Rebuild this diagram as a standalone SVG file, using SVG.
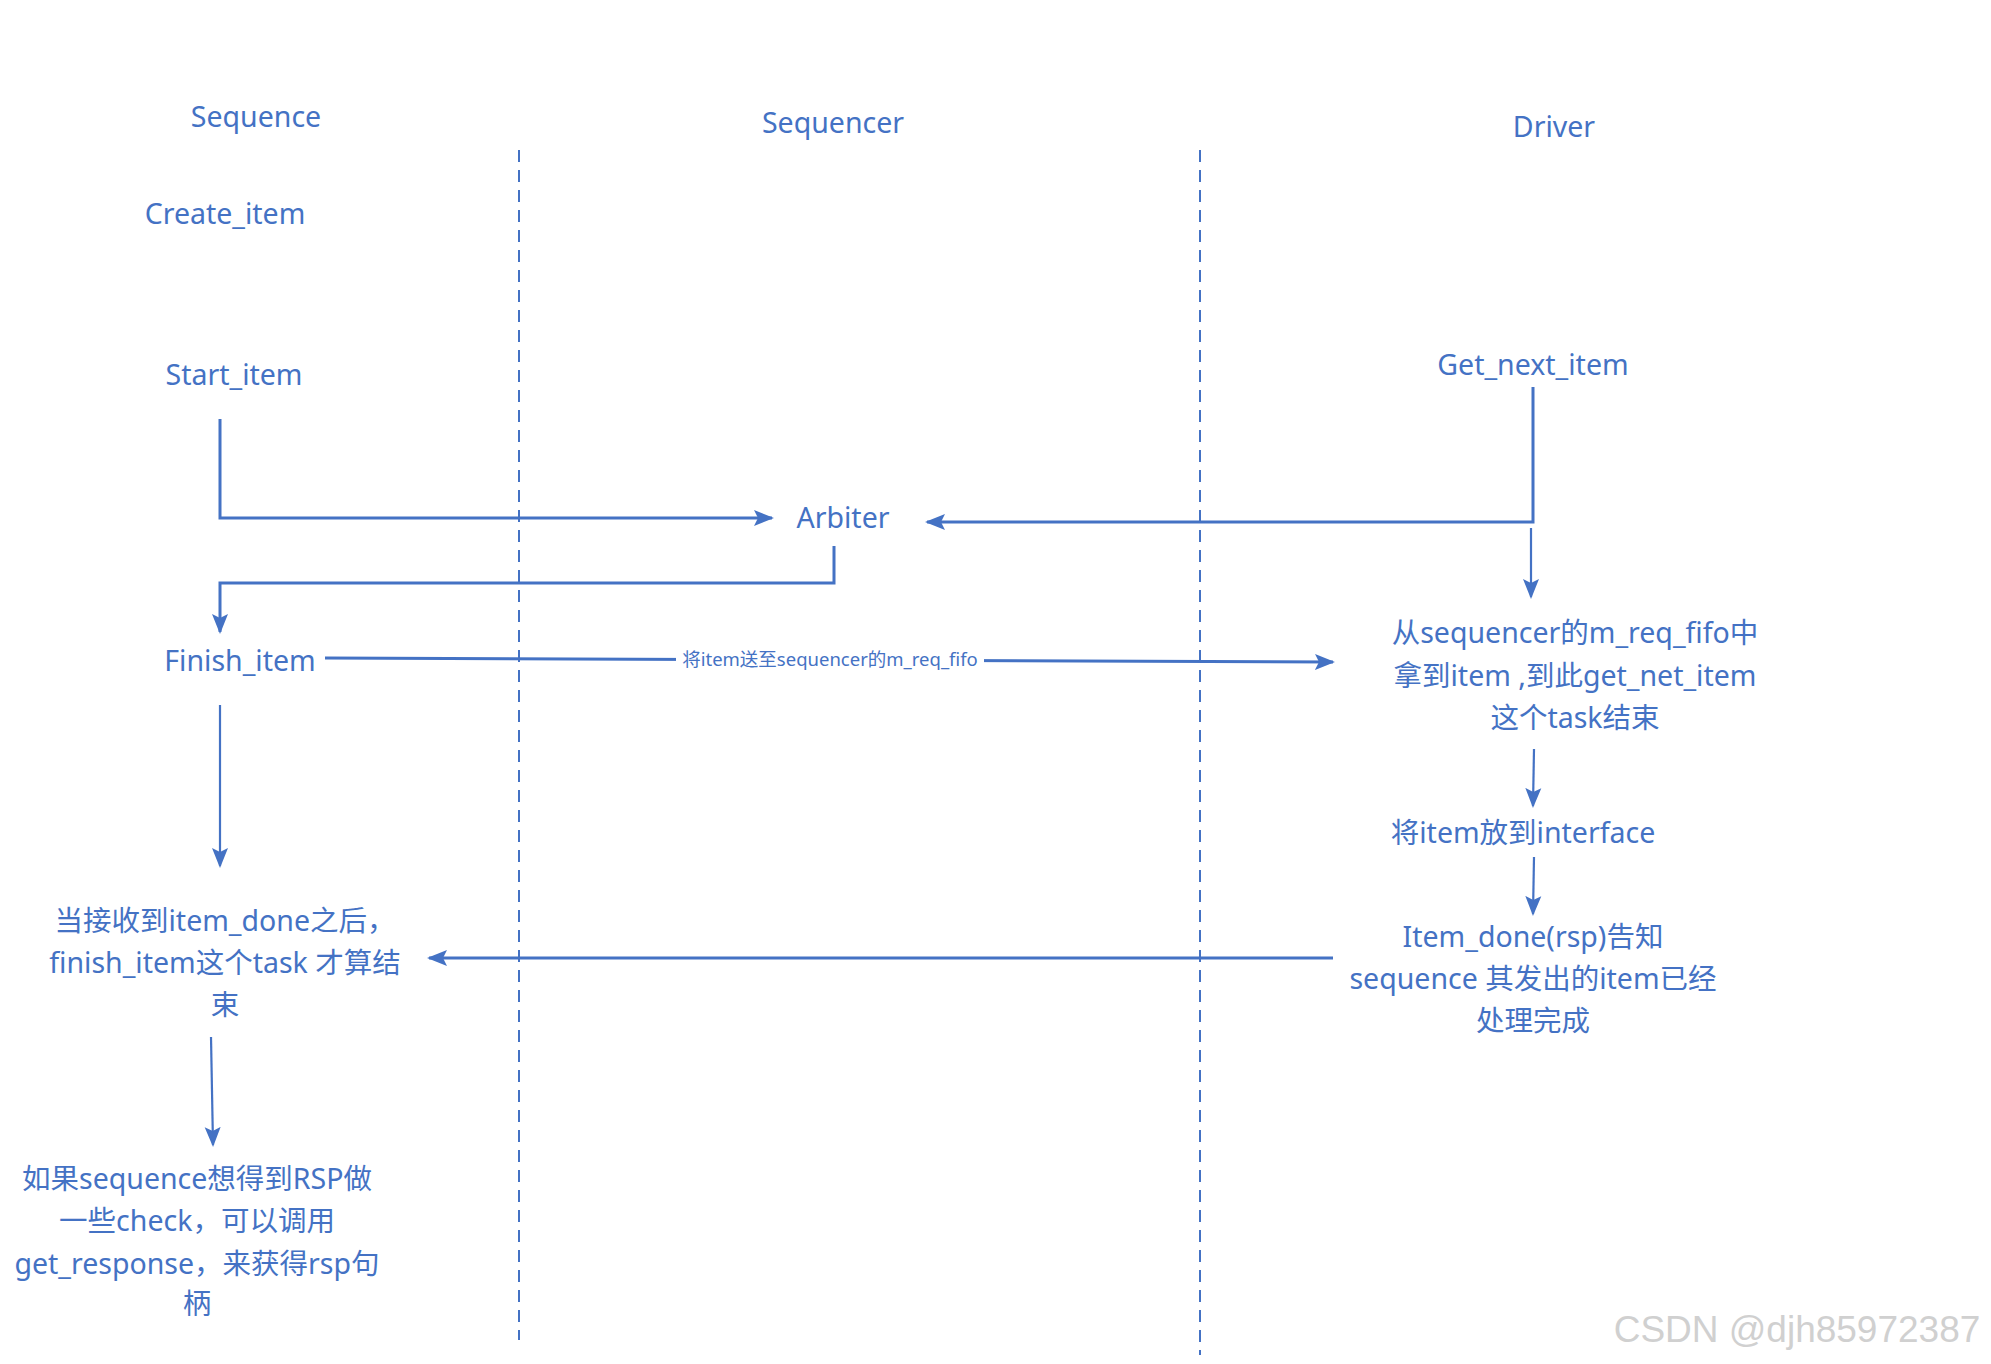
<svg xmlns="http://www.w3.org/2000/svg" width="1991" height="1364" viewBox="0 0 1991 1364">
<style>
text{font-family:"Noto Sans","Noto Sans CJK SC",sans-serif;fill:#4472C4;font-size:28.5px;text-anchor:middle}
.c{fill:none;stroke:#4472C4;stroke-width:2.2}
.h{stroke-width:3}
.d{fill:none;stroke:#4472C4;stroke-width:2;stroke-dasharray:12 8}
.s{font-size:18.5px}
.w{fill:#D0D0D0;font-family:"Liberation Sans",sans-serif;font-size:37px}
</style>
<defs>
<marker id="b" viewBox="0 0 10 10" refX="9" refY="5" markerWidth="20" markerHeight="20" markerUnits="userSpaceOnUse" orient="auto"><path d="M0,1L10,5L0,9L2,5z" fill="#4472C4"/></marker>
</defs>
<rect width="1991" height="1364" fill="#fff"/>
<g id="lanes"><line class="d" x1="519" y1="150" x2="519" y2="1340"/><line class="d" x1="1200" y1="150" x2="1200" y2="1355"/></g>
<g id="h-seq"><text x="256" y="127">Sequence</text></g>
<g id="h-sqr"><text x="833" y="133">Sequencer</text></g>
<g id="h-drv"><text x="1554" y="137">Driver</text></g>
<g id="create"><text x="225" y="224">Create_item</text></g>
<g id="start"><text x="234" y="385">Start_item</text></g>
<g id="getnext"><text x="1533" y="375">Get_next_item</text></g>
<g id="arbiter"><text x="843" y="528">Arbiter</text></g>
<g id="finish"><text x="240" y="671">Finish_item</text></g>
<g id="fifo"><text x="1575" y="643">从sequencer的m_req_fifo中</text><text x="1575" y="686">拿到item ,到此get_net_item</text><text x="1575" y="728">这个task结束</text></g>
<g id="iface"><text x="1523" y="843">将item放到interface</text></g>
<g id="done"><text x="1533" y="947">Item_done(rsp)告知</text><text x="1533" y="989">sequence 其发出的item已经</text><text x="1533" y="1031">处理完成</text></g>
<g id="finend"><text x="225" y="931">当接收到item_done之后，</text><text x="225" y="973">finish_item这个task 才算结</text><text x="225" y="1015">束</text></g>
<g id="rsp"><text x="197" y="1189">如果sequence想得到RSP做</text><text x="197" y="1231">一些check，可以调用</text><text x="197" y="1274">get_response，来获得rsp句</text><text x="197" y="1314">柄</text></g>
<g id="connectors">
<path class="c h" d="M220,419V518H772" marker-end="url(#b)"/>
<path class="c h" d="M1533,387V522H927" marker-end="url(#b)"/>
<path class="c" d="M1531,528V597" marker-end="url(#b)"/>
<path class="c h" d="M834,546V583H220V632" marker-end="url(#b)"/>
<path class="c h" d="M325,658L1333,662" marker-end="url(#b)"/>
<rect x="676" y="648" width="308" height="24" fill="#fff"/>
<text class="s" x="830" y="666">将item送至sequencer的m_req_fifo</text>
<path class="c" d="M1534,749L1533,806" marker-end="url(#b)"/>
<path class="c" d="M1534,857L1533,914" marker-end="url(#b)"/>
<path class="c h" d="M1333,958H429" marker-end="url(#b)"/>
<path class="c" d="M220,705V866" marker-end="url(#b)"/>
<path class="c" d="M211,1037L213,1145" marker-end="url(#b)"/>
</g>
<text class="w" x="1797" y="1342">CSDN @djh85972387</text>
</svg>
